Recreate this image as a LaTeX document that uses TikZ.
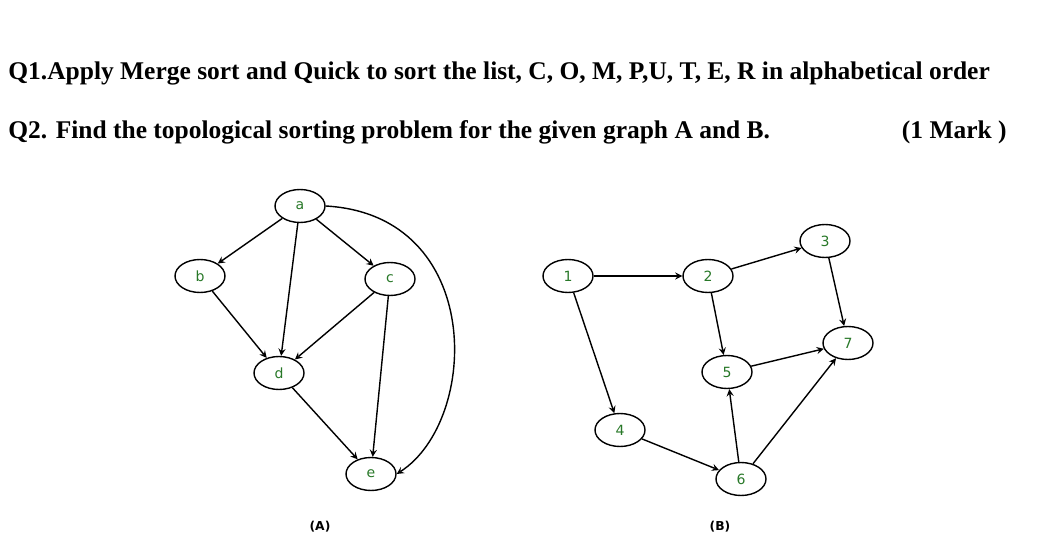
\documentclass[tikz,border=0pt]{standalone}
\usepackage{fontspec}
\setmainfont{Liberation Serif}
\newfontfamily\graphfont{DejaVu Sans}
\usetikzlibrary{shapes.geometric}
\definecolor{labelgreen}{RGB}{40,120,40}
\begin{document}
\begin{tikzpicture}[x=0.02cm,y=-0.02cm]
    \tikzstyle{vertex}=[ellipse,draw=black,thick,minimum width=1.0cm,minimum height=0.66cm,
      text=labelgreen,font=\graphfont\footnotesize,inner sep=0pt]
    \tikzstyle{dedge}=[thick,->,>=stealth,draw=black]
    \tikzstyle{question}=[font=\bfseries\fontsize{14.5}{17}\selectfont,anchor=base west,inner sep=0pt]
    \useasboundingbox (0,0) rectangle (1051,550);

    \node[question] (q1) at (8,80) {Q1.Apply Merge sort and Quick to sort the list, C, O, M, P,U, T, E, R in alphabetical order};
    \node[question] (q2) at (8,139) {Q2. Find the topological sorting problem for the given graph A and B.};
    \node[question,anchor=base east] (mark) at (1007,139) {(1 Mark )};

    % graph A
    \node[vertex] (a) at (300,206) {a};
    \node[vertex] (b) at (200,276) {b};
    \node[vertex] (c) at (390,279) {c};
    \node[vertex] (d) at (279,373) {d};
    \node[vertex] (e) at (371,474) {e};
    \node[font=\graphfont\scriptsize\bfseries] (capA) at (320,527) {(A)};

    \draw[dedge] (a)--(b);
    \draw[dedge] (a)--(c);
    \draw[dedge] (a)--(d);
    \draw[dedge] (b)--(d);
    \draw[dedge] (c)--(d);
    \draw[dedge] (c)--(e);
    \draw[dedge] (d)--(e);
    \draw[dedge] (a.east) .. controls (485,215) and (480,420) .. (e.east);

    % graph B
    \node[vertex] (n1) at (568,276) {1};
    \node[vertex] (n2) at (708,276) {2};
    \node[vertex] (n3) at (825,241) {3};
    \node[vertex] (n4) at (620,430) {4};
    \node[vertex] (n5) at (727,372) {5};
    \node[vertex] (n6) at (741,479) {6};
    \node[vertex] (n7) at (848,343) {7};
    \node[font=\graphfont\scriptsize\bfseries] (capB) at (720,527) {(B)};

    \draw[dedge] (n1)--(n2);
    \draw[dedge] (n1)--(n4);
    \draw[dedge] (n2)--(n3);
    \draw[dedge] (n2)--(n5);
    \draw[dedge] (n3)--(n7);
    \draw[dedge] (n5)--(n7);
    \draw[dedge] (n4)--(n6);
    \draw[dedge] (n6)--(n5);
    \draw[dedge] (n6)--(n7);
\end{tikzpicture}
\end{document}
